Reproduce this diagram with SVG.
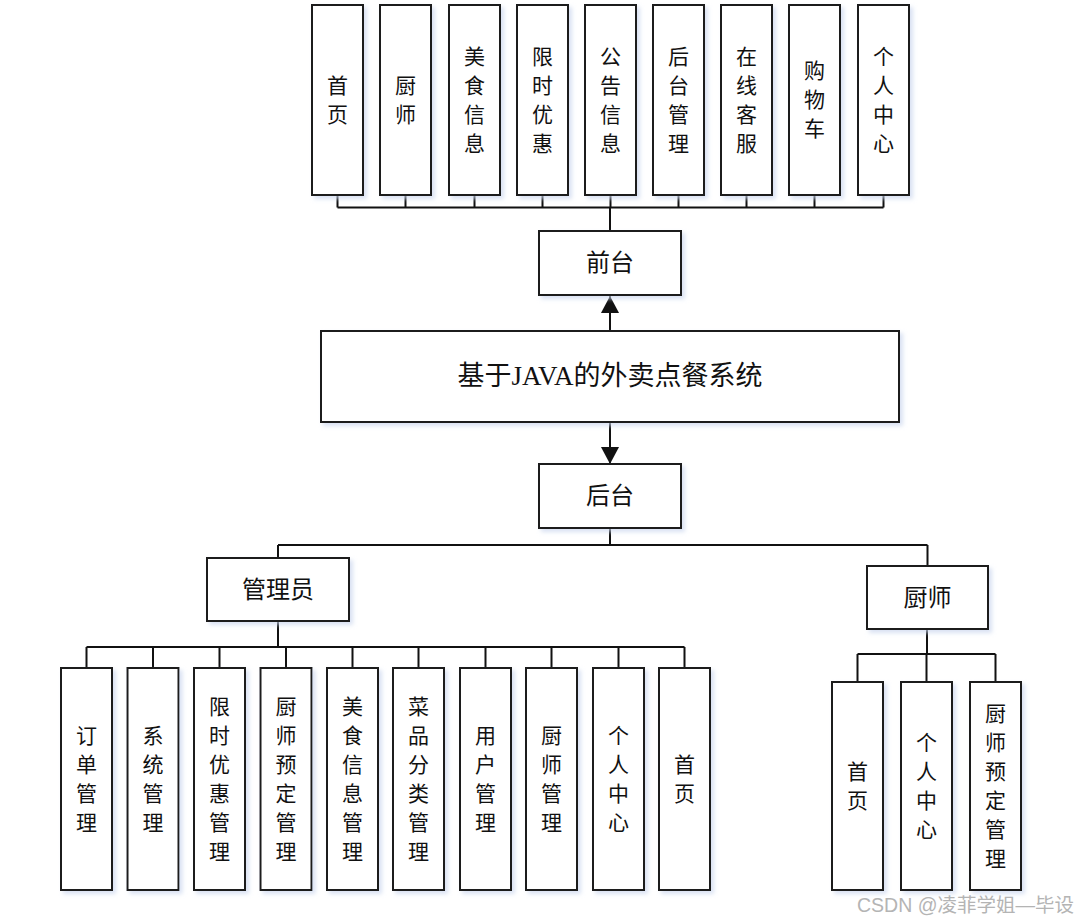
<svg xmlns="http://www.w3.org/2000/svg" width="1079" height="923" viewBox="0 0 1079 923">
<style>
.box{fill:#fff;stroke:#1a1a1a;stroke-width:2;filter:url(#sh)}
.ln{stroke:#111;stroke-width:2;fill:none}
.t{font-family:"Liberation Serif","Noto Sans CJK SC",serif;fill:#111;text-anchor:middle;dominant-baseline:central}
.v{font-size:21px}
.h{font-size:24px}
.wm{font-family:"Liberation Sans","Noto Sans CJK SC",sans-serif;font-size:19.5px;fill:#b4b4b4;text-anchor:end}
</style>
<defs>
<filter id="sh" x="-20%" y="-20%" width="140%" height="140%">
<feDropShadow dx="3" dy="3" stdDeviation="2" flood-color="#c9d6ee" flood-opacity="0.7"/>
</filter>
<marker id="ah" markerUnits="userSpaceOnUse" markerWidth="17" markerHeight="18" refX="17" refY="9" orient="auto">
<path d="M0,0 L17,9 L0,18 z" fill="#111"/>
</marker>
</defs>

<g id="connectors">
<path class="ln" d="M337.5,195 V207.5 M405.5,195 V207.5 M474.5,195 V207.5 M542.5,195 V207.5 M610.5,195 V207.5 M678.5,195 V207.5 M746.5,195 V207.5 M814.5,195 V207.5 M883.5,195 V207.5 M337.5,207.5 H883.5 M610,207.5 V231"/>
<line class="ln" x1="610" y1="331" x2="610" y2="296" marker-end="url(#ah)"/>
<line class="ln" x1="610" y1="422" x2="610" y2="464" marker-end="url(#ah)"/>
<path class="ln" d="M610,528 V545 M278,545 H927.5 M278,545 V558 M927.5,545 V566"/>
<path class="ln" d="M278,621 V647 M86.5,647 H684.5 M86.5,647 V668 M153,647 V668 M219.5,647 V668 M286,647 V668 M352.5,647 V668 M418.5,647 V668 M485.5,647 V668 M551.5,647 V668 M618.5,647 V668 M684.5,647 V668"/>
<path class="ln" d="M927,629 V654 M857.5,654 H995.5 M857.5,654 V682 M926.5,654 V682 M995.5,654 V682"/>
</g>

<g id="n-top1"><rect class="box" x="312" y="5" width="51" height="190"/><text class="t v"><tspan x="337.5" y="85.5">首</tspan><tspan x="337.5" y="114.5">页</tspan></text></g>
<g id="n-top2"><rect class="box" x="380" y="5" width="51" height="190"/><text class="t v"><tspan x="405.5" y="85.5">厨</tspan><tspan x="405.5" y="114.5">师</tspan></text></g>
<g id="n-top3"><rect class="box" x="449" y="5" width="51" height="190"/><text class="t v"><tspan x="474.5" y="56.5">美</tspan><tspan x="474.5" y="85.5">食</tspan><tspan x="474.5" y="114.5">信</tspan><tspan x="474.5" y="143.5">息</tspan></text></g>
<g id="n-top4"><rect class="box" x="517" y="5" width="51" height="190"/><text class="t v"><tspan x="542.5" y="56.5">限</tspan><tspan x="542.5" y="85.5">时</tspan><tspan x="542.5" y="114.5">优</tspan><tspan x="542.5" y="143.5">惠</tspan></text></g>
<g id="n-top5"><rect class="box" x="585" y="5" width="51" height="190"/><text class="t v"><tspan x="610.5" y="56.5">公</tspan><tspan x="610.5" y="85.5">告</tspan><tspan x="610.5" y="114.5">信</tspan><tspan x="610.5" y="143.5">息</tspan></text></g>
<g id="n-top6"><rect class="box" x="653" y="5" width="51" height="190"/><text class="t v"><tspan x="678.5" y="56.5">后</tspan><tspan x="678.5" y="85.5">台</tspan><tspan x="678.5" y="114.5">管</tspan><tspan x="678.5" y="143.5">理</tspan></text></g>
<g id="n-top7"><rect class="box" x="721" y="5" width="51" height="190"/><text class="t v"><tspan x="746.5" y="56.5">在</tspan><tspan x="746.5" y="85.5">线</tspan><tspan x="746.5" y="114.5">客</tspan><tspan x="746.5" y="143.5">服</tspan></text></g>
<g id="n-top8"><rect class="box" x="789" y="5" width="51" height="190"/><text class="t v"><tspan x="814.5" y="71">购</tspan><tspan x="814.5" y="100">物</tspan><tspan x="814.5" y="129">车</tspan></text></g>
<g id="n-top9"><rect class="box" x="858" y="5" width="51" height="190"/><text class="t v"><tspan x="883.5" y="56.5">个</tspan><tspan x="883.5" y="85.5">人</tspan><tspan x="883.5" y="114.5">中</tspan><tspan x="883.5" y="143.5">心</tspan></text></g>

<g id="n-front"><rect class="box" x="539" y="231" width="142" height="64"/><text class="t h" x="610" y="263">前台</text></g>
<g id="n-system"><rect class="box" x="321" y="331" width="578" height="91"/><text class="t" style="font-size:27px" x="610" y="376">基于JAVA的外卖点餐系统</text></g>
<g id="n-back"><rect class="box" x="539" y="464" width="142" height="64"/><text class="t h" x="610" y="496">后台</text></g>
<g id="n-admin"><rect class="box" x="207" y="558" width="142" height="63"/><text class="t h" x="278" y="589.5">管理员</text></g>
<g id="n-chef"><rect class="box" x="867" y="566" width="121" height="63"/><text class="t h" x="927.5" y="597.5">厨师</text></g>

<g id="n-a1"><rect class="box" x="61" y="668" width="51" height="222"/><text class="t v"><tspan x="86.5" y="735.5">订</tspan><tspan x="86.5" y="764.5">单</tspan><tspan x="86.5" y="793.5">管</tspan><tspan x="86.5" y="822.5">理</tspan></text></g>
<g id="n-a2"><rect class="box" x="127.5" y="668" width="51" height="222"/><text class="t v"><tspan x="153" y="735.5">系</tspan><tspan x="153" y="764.5">统</tspan><tspan x="153" y="793.5">管</tspan><tspan x="153" y="822.5">理</tspan></text></g>
<g id="n-a3"><rect class="box" x="194" y="668" width="51" height="222"/><text class="t v"><tspan x="219.5" y="706.5">限</tspan><tspan x="219.5" y="735.5">时</tspan><tspan x="219.5" y="764.5">优</tspan><tspan x="219.5" y="793.5">惠</tspan><tspan x="219.5" y="822.5">管</tspan><tspan x="219.5" y="851.5">理</tspan></text></g>
<g id="n-a4"><rect class="box" x="260.5" y="668" width="51" height="222"/><text class="t v"><tspan x="286" y="706.5">厨</tspan><tspan x="286" y="735.5">师</tspan><tspan x="286" y="764.5">预</tspan><tspan x="286" y="793.5">定</tspan><tspan x="286" y="822.5">管</tspan><tspan x="286" y="851.5">理</tspan></text></g>
<g id="n-a5"><rect class="box" x="327" y="668" width="51" height="222"/><text class="t v"><tspan x="352.5" y="706.5">美</tspan><tspan x="352.5" y="735.5">食</tspan><tspan x="352.5" y="764.5">信</tspan><tspan x="352.5" y="793.5">息</tspan><tspan x="352.5" y="822.5">管</tspan><tspan x="352.5" y="851.5">理</tspan></text></g>
<g id="n-a6"><rect class="box" x="393" y="668" width="51" height="222"/><text class="t v"><tspan x="418.5" y="706.5">菜</tspan><tspan x="418.5" y="735.5">品</tspan><tspan x="418.5" y="764.5">分</tspan><tspan x="418.5" y="793.5">类</tspan><tspan x="418.5" y="822.5">管</tspan><tspan x="418.5" y="851.5">理</tspan></text></g>
<g id="n-a7"><rect class="box" x="460" y="668" width="51" height="222"/><text class="t v"><tspan x="485.5" y="735.5">用</tspan><tspan x="485.5" y="764.5">户</tspan><tspan x="485.5" y="793.5">管</tspan><tspan x="485.5" y="822.5">理</tspan></text></g>
<g id="n-a8"><rect class="box" x="526" y="668" width="51" height="222"/><text class="t v"><tspan x="551.5" y="735.5">厨</tspan><tspan x="551.5" y="764.5">师</tspan><tspan x="551.5" y="793.5">管</tspan><tspan x="551.5" y="822.5">理</tspan></text></g>
<g id="n-a9"><rect class="box" x="593" y="668" width="51" height="222"/><text class="t v"><tspan x="618.5" y="735.5">个</tspan><tspan x="618.5" y="764.5">人</tspan><tspan x="618.5" y="793.5">中</tspan><tspan x="618.5" y="822.5">心</tspan></text></g>
<g id="n-a10"><rect class="box" x="659" y="668" width="51" height="222"/><text class="t v"><tspan x="684.5" y="764.5">首</tspan><tspan x="684.5" y="793.5">页</tspan></text></g>

<g id="n-c1"><rect class="box" x="832" y="682" width="51" height="208"/><text class="t v"><tspan x="857.5" y="771.5">首</tspan><tspan x="857.5" y="800.5">页</tspan></text></g>
<g id="n-c2"><rect class="box" x="901" y="682" width="51" height="208"/><text class="t v"><tspan x="926.5" y="742.5">个</tspan><tspan x="926.5" y="771.5">人</tspan><tspan x="926.5" y="800.5">中</tspan><tspan x="926.5" y="829.5">心</tspan></text></g>
<g id="n-c3"><rect class="box" x="970" y="682" width="51" height="208"/><text class="t v"><tspan x="995.5" y="713.5">厨</tspan><tspan x="995.5" y="742.5">师</tspan><tspan x="995.5" y="771.5">预</tspan><tspan x="995.5" y="800.5">定</tspan><tspan x="995.5" y="829.5">管</tspan><tspan x="995.5" y="858.5">理</tspan></text></g>

<text class="wm" x="1074" y="912">CSDN @凌菲学姐—毕设</text>
</svg>
